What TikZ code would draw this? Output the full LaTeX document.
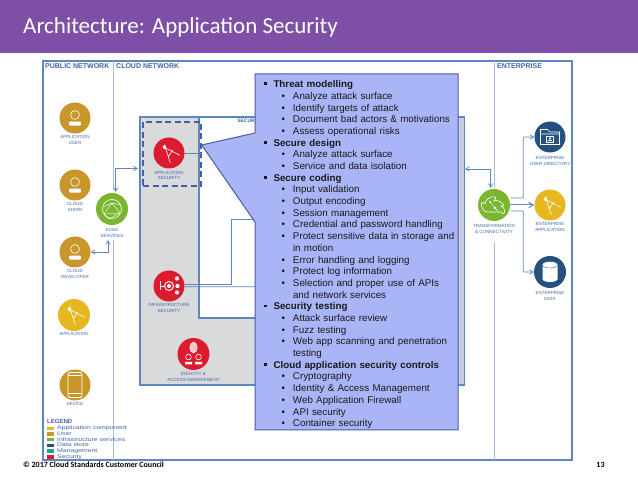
\documentclass[tikz,border=0pt]{standalone}
\usepackage{fontspec}
\setmainfont{Liberation Sans}
\newfontfamily\slidefont{Carlito}
\newfontfamily\legendfont[FakeStretch=1.3]{Liberation Sans}
\usepackage{tikz}
\usetikzlibrary{arrows}
\definecolor{banner}{HTML}{7D4FA6}
\definecolor{frameblue}{HTML}{5F86BE}
\definecolor{paleblue}{HTML}{A9C0DE}
\definecolor{capblue}{HTML}{3F65A8}
\definecolor{panelgray}{HTML}{D9DADC}
\definecolor{calloutfill}{HTML}{AAB5F7}
\definecolor{calloutline}{HTML}{4A5CA6}
\definecolor{usergold}{HTML}{C8962A}
\definecolor{appyellow}{HTML}{E6B71E}
\definecolor{infragreen}{HTML}{7AB62F}
\definecolor{datablue}{HTML}{24517F}
\definecolor{secred}{HTML}{DC1C2E}
\definecolor{mgmtteal}{HTML}{1FA58F}
\tikzstyle{icon} = [circle, minimum size=31pt, inner sep=0pt]
\tikzstyle{caption} = [text=capblue, font=\fontsize{4.5}{5.7}\selectfont, align=center, inner sep=0pt]
\tikzstyle{heading} = [text=capblue, font=\bfseries\fontsize{7}{8}\selectfont, inner sep=0pt, anchor=west]
\tikzstyle{legendtext} = [text=capblue, font=\legendfont\fontsize{5.3}{6}\selectfont, inner sep=0pt, anchor=west]
\tikzstyle{swatch} = [rectangle, minimum width=7pt, minimum height=3.2pt, inner sep=0pt]
\tikzstyle{link} = [draw=frameblue, line width=0.7pt, ->, >=angle 60, rounded corners=0.5pt]
\tikzstyle{biglink} = [draw=frameblue, line width=0.7pt, <->, >=angle 60]
\tikzstyle{glyph} = [draw=white, line width=0.6pt]
\newcommand{\usericon}[1]{\begin{scope}[shift={(#1)}]
  \draw [glyph] (0,-3) circle (4.4);
  \fill [white, rounded corners=0.8pt] (-5.8,3.7) rectangle (5.8,7.7);
\end{scope}}
\newcommand{\compassicon}[1]{\begin{scope}[shift={(#1)}]
  \fill [white] (-6.5,-6) -- (-4,-8.5) -- (-2.5,-4.5) -- (-4.5,-3.5) -- cycle;
  \draw [glyph] (-3.5,-5) -- (1.3,9.7) (-3.5,-5) -- (10.7,2.3) (-1,4) -- (4,-3);
\end{scope}}
\newcommand{\tophead}[1]{\hspace*{2.5pt}\rule[2.6pt]{2.6pt}{2.6pt}\hspace{6.7pt}\textbf{#1}}
\newcommand{\subline}[1]{\hspace*{20pt}\makebox[11.3pt][l]{\textbullet}#1}
\newcommand{\subcont}[1]{\hspace*{31.3pt}#1}

\begin{document}
\begin{tikzpicture}[x=1pt, y=-1pt, node distance=67pt]
\useasboundingbox (0,0) rectangle (638,478);

% slide
\fill [banner] (0,0) rectangle (638,53);
\node (title) [anchor=west, inner sep=0pt, text=white, font=\slidefont\fontsize{23}{26}\selectfont] at (23,27) {Architecture: Application Security};
\node (footer) [anchor=west, inner sep=0pt, font=\slidefont\bfseries\fontsize{8}{10}\selectfont] at (23,465) {© 2017 Cloud Standards Customer Council};
\node (pagenr) [anchor=center, inner sep=0pt, font=\slidefont\bfseries\fontsize{8}{10}\selectfont] at (600.5,465) {13};

% network zones
\node (outer) [rectangle, draw=frameblue, line width=1.1pt, minimum width=529pt, minimum height=399pt, inner sep=0pt] at (307.5,260.5) {};
\node (public) [heading] at (45,66) {PUBLIC NETWORK};
\node (cloud) [heading] at (116,66) {CLOUD NETWORK};
\node (enterprise) [heading] at (497,66) {ENTERPRISE};

% security panel
\node (panel) [rectangle, fill=panelgray, draw=frameblue, line width=1.1pt, minimum width=324pt, minimum height=268pt, inner sep=0pt] at (302,251) {};
\fill [white] (199,117) rectangle (458,318);
\fill [blue!8!panelgray] (458,117.5) rectangle (463.5,384.5);
\draw [frameblue, line width=1.1pt] (140,117) -- (464,117) (199,117) -- (199,318) -- (458,318);
\node (secur) [caption, anchor=east, font=\bfseries\fontsize{5}{6}\selectfont] at (255,121) {SECUR};
\node (dashbox) [rectangle, draw=calloutline, line width=1.1pt, dash pattern=on 6pt off 3.5pt, minimum width=58pt, minimum height=64pt, inner sep=0pt] at (172,154) {};

% icons left
\node (appuser) [icon, fill=usergold] at (75,118) {};
\node (admin) [icon, fill=usergold, below of=appuser] {};
\node (developer) [icon, fill=usergold, below of=admin] {};
\node (application) [icon, fill=appyellow, minimum size=32pt] at (74,315) {};
\node (device) [icon, fill=usergold, below of=developer, yshift=-66pt] {};
\node (edge) [icon, fill=infragreen, minimum size=32pt] at (112,209) {};
\node (appsec) [icon, fill=secred] at (169,153) {};
\node (infrasec) [icon, fill=secred, below of=appsec, yshift=-66pt] {};
\node (iam) [icon, fill=secred, minimum size=32pt] at (193.5,354) {};
\node (transform) [icon, fill=infragreen, minimum size=32pt] at (494,205) {};
\node (entdir) [icon, fill=datablue] at (550,137) {};
\node (entapp) [icon, fill=appyellow, below of=entdir, yshift=-1pt] {};
\node (entdata) [icon, fill=datablue, minimum size=32pt, below of=entapp] {};

% captions
\node (appuserc) [caption, below of=appuser, node distance=22pt] {APPLICATION\\USER};
\node (adminc) [caption, below of=admin, node distance=22pt] {CLOUD\\ADMIN};
\node (developerc) [caption, below of=developer, node distance=22pt] {CLOUD\\DEVELOPER};
\node (applicationc) [caption, below of=application, node distance=19pt] {APPLICATION};
\node (devicec) [caption, below of=device, node distance=19pt] {DEVICE};
\node (edgec) [caption, below of=edge, node distance=24pt] {EDGE\\SERVICES};
\node (appsecc) [caption, below of=appsec, node distance=22.5pt] {APPLICATION\\SECURITY};
\node (infrasecc) [caption, below of=infrasec, node distance=22pt] {INFRASTRUCTURE\\SECURITY};
\node (iamc) [caption, below of=iam, node distance=23pt] {IDENTITY \&\\ACCESS MANAGEMENT};
\node (transformc) [caption, below of=transform, node distance=24pt] {TRANSFORMATION\\\& CONNECTIVITY};
\node (entdirc) [caption, below of=entdir, node distance=24pt] {ENTERPRISE\\USER DIRECTORY};
\node (entappc) [caption, below of=entapp, node distance=22pt] {ENTERPRISE\\APPLICATION};
\node (entdatac) [caption, below of=entdata, node distance=24pt] {ENTERPRISE\\DATA};

% glyphs
\usericon{appuser}
\usericon{admin}
\usericon{developer}
\compassicon{application}
\compassicon{appsec}
\compassicon{entapp}
\draw [glyph, rounded corners=1.5pt, line width=0.8pt] (device) ++(-7,-12.5) rectangle ++(14,25);
\draw [glyph] (device) ++(-7,8.5) -- ++(14,0) (device) ++(-7,-9.5) -- ++(14,0);
\draw [glyph] (edge) circle (9.5);
\draw [glyph, line width=0.4pt] (edge) ++(-8,5) -- ++(8,-11) -- ++(8,10) -- ++(-11,6) -- cycle (edge) ++(-8,5) -- ++(16,-1) (edge) ++(-9,-2) -- ++(9,-4) -- ++(9,2);
\draw [glyph] (transform) ++(-7,7) .. controls ++(-6,0) and ++(-6,-7) .. ++(-2,-8) .. controls ++(0,-8) and ++(7,-7) .. ++(9,-3) .. controls ++(3,-3) and ++(8,1) .. ++(7,5) .. controls ++(5,1) and ++(5,6) .. ++(0,6) -- cycle;
\draw [glyph, line width=0.4pt] (transform) ++(-4,-3) -- ++(5,6) -- ++(3,3);
\fill [white] (transform) ++(1,3) circle (1.3) (transform) ++(-4,-3) circle (1.1);
\draw [glyph, line width=0.9pt] (infrasec) ++(-9,-4.5) -- ++(0,9) (infrasec) ++(-9,0) -- ++(4,0);
\draw [glyph, line width=0.9pt] (infrasec) circle (4.5);
\fill [white] (infrasec) circle (2);
\fill [white] (infrasec) ++(8,-7.5) circle (2.1) (infrasec) ++(8.5,0) circle (2.1) (infrasec) ++(8,6.5) circle (2.1);
\draw [white, fill=white!75!secred, line width=0.4pt] (iam) ++(0,-6.5) ellipse (3.8 and 5.5);
\draw [glyph] (iam) ++(-5,3) circle (2.8) (iam) ++(5,3) circle (2.8);
\fill [white] (iam) ++(-8.5,8) rectangle ++(7,2.4) (iam) ++(1.5,8) rectangle ++(7,2.4);
\draw [glyph] (entdir) ++(-9.5,-7.5) -- ++(7,0) -- ++(2,2.5) -- ++(10,0) -- ++(0,12.5) -- ++(-19,0) -- cycle (entdir) ++(-9.5,-3) -- ++(19,0);
\draw [glyph, line width=0.4pt] (entdir) ++(-3.5,-0.5) rectangle ++(7,6);
\fill [white] (entdir) ++(0,1.3) circle (1.1) (entdir) ++(-2,3) rectangle ++(4,1.2);
\fill [white] (entdata) ++(-7.5,-7) -- ++(15,0) -- ++(0,14) arc [start angle=0, end angle=-180, x radius=7.5, y radius=-3] -- cycle;
\fill [white] (entdata) ++(0,-7) ellipse (7.5 and 3.3);
\draw [datablue, line width=0.4pt] (entdata) ++(7.5,-7) arc [start angle=0, end angle=-180, x radius=7.5, y radius=-3];

% dividers and arrows
\coordinate (pubtop) at (113,61);
\coordinate (pubbot) at (113,460);
\coordinate (enttop) at (494,61);
\coordinate (entbot) at (494,460);
\draw [paleblue, line width=0.9pt] (pubtop) -- (113,190);
\draw [paleblue, line width=0.9pt] (113,240) -- (pubbot);
\draw [paleblue, line width=0.9pt] (enttop) -- (494,188);
\draw [paleblue, line width=0.9pt] (494,242) -- (entbot);
\coordinate (edgein) at (115.7,192);
\coordinate (panelin) at (138,168.5);
\draw [biglink] (edgein) |- (panelin);
\coordinate (devup) at (108,240);
\draw [biglink] (developer.east) -| (devup);
\coordinate (panelout) at (465,169);
\coordinate (transin) at (490.7,188);
\draw [biglink] (panelout) -| (transin);
\draw [link] (510.5,198) -- (523.3,198) |- (entdir.west);
\draw [link, line width=1pt] (transform.east) -- (entapp.west);
\draw [link] (510.5,211) -- (523.3,211) |- (entdata.west);

% lines towards callout
\coordinate (apptip) at (202,153);
\draw [frameblue, line width=0.8pt] (appsec.east) -- (apptip);
\coordinate (infratop) at (255,219);
\coordinate (infrarun) at (255,286.7);
\draw [frameblue, line width=0.8pt] (infrasec.east) ++(0,-1.5) -| (231.7,219) -- (infratop);
\draw [frameblue, line width=0.8pt] (infrasec.east) ++(0,0.8) -- (infrarun);

% legend
\node (legend) [heading, font=\bfseries\fontsize{6}{7}\selectfont] at (47,421) {LEGEND};
\foreach \swname/\swcol/\swy/\swtext in {a/appyellow/428.3/Application component, b/usergold/434/User, c/infragreen/439.5/Infrastructure services, d/datablue/445.2/Data store, e/mgmtteal/451/Management, f/secred/457/Security} {
  \node (sw\swname) [swatch, fill=\swcol] at (50.5,\swy) {};
  \node (lg\swname) [legendtext] at (57,\swy) {\swtext};
}

% callout
\coordinate (cnw) at (255,74);
\coordinate (cne) at (458,74);
\coordinate (cse) at (458,430);
\coordinate (csw) at (255,430);
\coordinate (tip) at (201.7,145);
\draw [calloutline, fill=calloutfill, line width=1pt] (cnw) -- (cne) -- (cse) -- (csw) -- (255,222) -- (tip) -- (255,133) -- cycle;
\node (bullets) [anchor=north west, inner sep=0pt, text width=195pt, align=left, text=black!90, font=\fontsize{9.8}{11.69}\selectfont] at (261.5,80.4) {%
\tophead{Threat modelling}\\
\subline{Analyze attack surface}\\
\subline{Identify targets of attack}\\
\subline{Document bad actors \& motivations}\\
\subline{Assess operational risks}\\
\tophead{Secure design}\\
\subline{Analyze attack surface}\\
\subline{Service and data isolation}\\
\tophead{Secure coding}\\
\subline{Input validation}\\
\subline{Output encoding}\\
\subline{Session management}\\
\subline{Credential and password handling}\\
\subline{Protect sensitive data in storage and}\\
\subcont{in motion}\\
\subline{Error handling and logging}\\
\subline{Protect log information}\\
\subline{Selection and proper use of APIs}\\
\subcont{and network services}\\
\tophead{Security testing}\\
\subline{Attack surface review}\\
\subline{Fuzz testing}\\
\subline{Web app scanning and penetration}\\
\subcont{testing}\\
\tophead{Cloud application security controls}\\
\subline{Cryptography}\\
\subline{Identity \& Access Management}\\
\subline{Web Application Firewall}\\
\subline{API security}\\
\subline{Container security}};

\end{tikzpicture}
\end{document}
